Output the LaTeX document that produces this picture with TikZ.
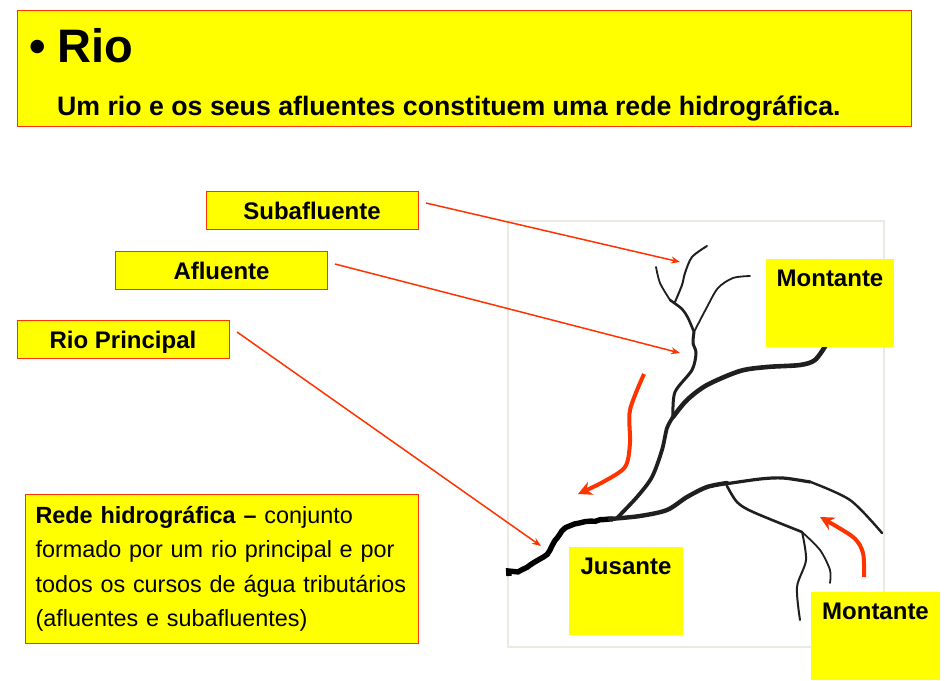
\documentclass[tikz,border=0pt]{standalone}
\usepackage{fontspec}
\setmainfont{Liberation Sans}
\usetikzlibrary{arrows.meta, decorations.pathmorphing}
\definecolor{riored}{HTML}{FF3300}
\definecolor{rioyellow}{HTML}{FFFF00}
\definecolor{framegray}{HTML}{ECEAE0}
\tikzset{
  labelbox/.style={draw=riored, fill=rioyellow, line width=1pt, inner sep=0pt, minimum width=212pt, minimum height=38pt, text height=20pt, text depth=2pt, font=\fontsize{24}{28}\selectfont\bfseries},
  capbox/.style={fill=rioyellow, anchor=north, inner sep=0pt, text height=27.5pt, text depth=60.5pt, font=\fontsize{24}{28}\selectfont\bfseries},
  pointer/.style={-{Stealth[length=9pt, width=7pt]}, draw=riored, line width=1.5pt},
  flow/.style={-{Stealth[length=14pt, width=14pt]}, draw=riored, line width=4pt},
  river/.style={line cap=round, line join=round, draw=black!88}
}
\begin{document}
\begin{tikzpicture}[x=1pt, y=-1pt]
    \useasboundingbox (0,0) rectangle (945,680);
    % photo frame
    \draw [framegray, line width=2.4pt] (508,221) rectangle (884,647);
    % river network
    \draw [draw=black, line width=5.4pt, decorate, decoration={random steps, segment length=5pt, amplitude=.6pt}] plot[smooth] coordinates {(509,576) (530,565) (547,554) (562,531) (580,523) (613,519)};
    \draw [river, line width=4.4pt] plot[smooth] coordinates {(610,519) (640,516) (667,510) (687,497) (707,487) (727,483)};
    \draw [river, line width=3.2pt] plot[smooth] coordinates {(725,484) (760,479) (783,478) (810,482)};
    \draw [river, line width=2.4pt] plot[smooth] coordinates {(808,481) (850,500) (882,533)};
    \draw [river, line width=2.6pt] plot[smooth] coordinates {(727,486) (737,502) (753,512) (802,532)};
    \draw [river, line width=1.8pt] plot[smooth] coordinates {(802,532) (820,550) (830,570) (830,583)};
    \draw [river, line width=2pt] plot[smooth] coordinates {(802,532) (806,560) (797,587) (800,620)};
    \draw [river, line width=3.8pt] plot[smooth] coordinates {(617,518) (637,497) (652,477) (662,450) (667,428) (673,417)};
    \draw [river, line width=4.6pt] plot[smooth] coordinates {(673,417) (687,400) (707,385) (740,371) (767,367) (800,365) (815,360) (826,345)};
    \draw [river, line width=3pt] plot[smooth] coordinates {(673,415) (675,392) (692,370) (696,353) (693,343) (694,332)};
    \draw [river, line width=2.6pt] plot[smooth] coordinates {(694,332) (688,318) (682,309) (670,300)};
    \draw [river, line width=1.8pt] plot[smooth] coordinates {(670,300) (660,283) (656,267)};
    \draw [river, line width=2pt] plot[smooth] coordinates {(675,302) (682,285) (685,273) (692,257) (707,246)};
    \draw [river, line width=1.8pt] plot[smooth] coordinates {(694,332) (707,307) (718,288) (733,278) (750,276)};
    % yellow boxes
    \node [draw=riored, fill=rioyellow, line width=1pt, minimum width=894pt, minimum height=116pt] (titlebox) at (464,68) {};
    \node [anchor=base west, inner sep=0pt, font=\fontsize{47}{56}\selectfont\bfseries] (title) at (29,62) {•\hspace{12pt}Rio};
    \node [anchor=base west, inner sep=0pt, font=\fontsize{26.7}{30}\selectfont\bfseries] (subtitle) at (57,115) {Um rio e os seus afluentes constituem uma rede hidrográfica.};
    \node [labelbox] (subafluente) at (312,210) {Subafluente};
    \node [labelbox] (afluente) at (221.5,270.5) {Afluente};
    \node [labelbox] (rioprincipal) at (123,339) {Rio Principal};
    \node [capbox, minimum width=128pt] (montanteup) at (830,259) {Montante};
    \node [capbox, minimum width=114pt] (jusante) at (626,547) {Jusante};
    \node [capbox, minimum width=129pt] (montantedown) at (875.5,592) {Montante};
    \node [draw=riored, fill=rioyellow, line width=1pt, anchor=north west, inner xsep=10pt, inner ysep=0pt, text width=373pt, minimum height=149pt, align=left, font=\fontsize{23.4}{34.5}\selectfont] (redebox) at (25,494) {\textbf{Rede hidrográfica –} conjunto\\formado por um rio principal e por\\todos os cursos de água tributários\\(afluentes e subafluentes)};
    % pointer ends
    \coordinate (subfrom) at (426,203);
    \coordinate (subto) at (680,262);
    \coordinate (aflfrom) at (335,264);
    \coordinate (aflto) at (680,353);
    \coordinate (riofrom) at (237,332);
    \coordinate (rioto) at (541,546);
    \draw [pointer] (subfrom)--(subto);
    \draw [pointer] (aflfrom)--(aflto);
    \draw [pointer] (riofrom)--(rioto);
    % flow direction
    \draw [flow] plot[smooth] coordinates {(644,374) (630,410) (630,443) (625,467) (603,482) (578,494)};
    \draw [flow] plot[smooth] coordinates {(864,577) (863,553) (853,537) (820,517)};
\end{tikzpicture}
\end{document}
